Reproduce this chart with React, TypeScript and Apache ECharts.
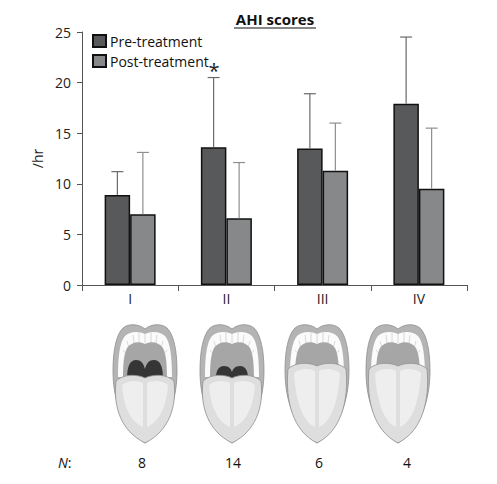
import React, { useEffect, useRef } from "react";
import * as echarts from "echarts";

const categories = ["I", "II", "III", "IV"];
const preValues = [8.9, 13.6, 13.5, 17.9];
const preErrTop = [11.2, 20.5, 18.9, 24.5];
const postValues = [7.0, 6.6, 11.3, 9.5];
const postErrTop = [13.1, 12.1, 16.0, 15.5];
const nValues = [8, 14, 6, 4];
const tonsilTypes = ["big", "small", "none", "none"];
const yTicks = { min: 0, max: 25, interval: 5 };

const FONT = "'Open Sans', 'Noto Sans', sans-serif";

// mouth illustration shapes (local coordinates, 64 x 120)
const SHAPES: Record<string, string> = {
  mOuter:
    "M32,6 C26,1 16,0 10,5 C3,12 0,28 0,48 C0,78 10,106 32,120 C54,106 64,78 64,48 C64,28 61,12 54,5 C48,0 38,1 32,6 Z",
  mTeeth:
    "M32,11 C26,8 17,8 12,13 C7,19 5,32 5,54 L59,54 C59,32 57,19 52,13 C47,8 38,8 32,11 Z",
  mPalate:
    "M32,21 C26,18 18,19 14,25 C11,31 10,40 10,56 L54,56 C54,40 53,31 50,25 C46,19 38,18 32,21 Z",
  mTongueLow:
    "M3,58 C10,51 24,51 32,55 C40,51 54,51 61,58 C64,84 56,108 32,120 C8,108 0,84 3,58 Z",
  mTongueHigh:
    "M3,46 C10,39 24,39 32,43 C40,39 54,39 61,46 C64,78 56,108 32,120 C8,108 0,78 3,46 Z",
  mHiLow:
    "M9,62 C15,57 25,57 30,60 L30,104 C20,100 11,88 9,62 Z M55,62 C49,57 39,57 34,60 L34,104 C44,100 53,88 55,62 Z",
  mHiHigh:
    "M9,50 C15,45 25,45 30,48 L30,104 C20,100 11,84 9,50 Z M55,50 C49,45 39,45 34,48 L34,104 C44,100 53,84 55,50 Z",
  mTonsilBig:
    "M14,56 C14,43 17,37 23,37 C29,37 31,42 32,46 C33,42 35,37 41,37 C47,37 50,43 50,56 C44,53 38,54 32,57 C26,54 20,53 14,56 Z",
  mTonsilSmall:
    "M16,55 C16,47 19,43 24,43 C29,43 31,46 32,49 C33,46 35,43 40,43 C45,43 48,47 48,55 C42,53 37,54 32,56 C27,54 22,53 16,55 Z",
  mTeethGaps:
    "M20,12 L21,20 M26,10 L26,19 M32,11 L32,20 M38,10 L38,19 M44,12 L43,20 M14,18 L16,25 M50,18 L48,25 M10,27 L13,31 M54,27 L51,31",
};

let registered = false;
function registerShapes() {
  if (registered) return;
  Object.keys(SHAPES).forEach((k) => {
    echarts.graphic.registerShape(k, (echarts.graphic as any).extendPath(SHAPES[k], {}));
  });
  registered = true;
}

function mouth(cx: number, top: number, tonsil: string) {
  const x = cx - 32;
  const high = tonsil === "none";
  const children: any[] = [
    { type: "mOuter", x, y: top, style: { fill: "#b4b4b4", stroke: "#8e8e8e", lineWidth: 0.8 } },
    { type: "mTeeth", x, y: top, style: { fill: "#fbfbfb" } },
    { type: "mTeethGaps", x, y: top, style: { fill: "none", stroke: "#cfcfcf", lineWidth: 0.8 } },
    { type: "mPalate", x, y: top, style: { fill: "#a6a6a6" } },
  ];
  if (tonsil === "big") {
    children.push({ type: "mTonsilBig", x, y: top, style: { fill: "#353535" } });
  } else if (tonsil === "small") {
    children.push({ type: "mTonsilSmall", x, y: top, style: { fill: "#353535" } });
  }
  children.push(
    { type: high ? "mTongueHigh" : "mTongueLow", x, y: top, style: { fill: "#dedede", stroke: "#8f8f8f", lineWidth: 0.8 } },
    { type: high ? "mHiHigh" : "mHiLow", x, y: top, style: { fill: "#eeeeee" } }
  );
  return { type: "group", children };
}

export default function App() {
  const ref = useRef<HTMLDivElement>(null);
  useEffect(() => {
    registerShapes();
    const chart = echarts.init(ref.current!, null, { renderer: "svg" });
    const barW = 25.5;
    const errSeries = (name: string, vals: number[], errs: number[], side: number, color: string) => ({
      type: "custom",
      name: name + "-err",
      data: vals.map((v, i) => [i, v, errs[i]]),
      encode: { x: 0, y: [1, 2] },
      silent: true,
      z: 3,
      renderItem: (params: any, api: any) => {
        const i = api.value(0);
        const p0 = api.coord([i, api.value(1)]);
        const p1 = api.coord([i, api.value(2)]);
        const cx = p0[0] + (side * barW) / 2;
        return {
          type: "group",
          children: [
            { type: "line", shape: { x1: cx, y1: p0[1], x2: cx, y2: p1[1] }, style: { stroke: color, lineWidth: 1.2 } },
            { type: "line", shape: { x1: cx - 6, y1: p1[1], x2: cx + 6, y2: p1[1] }, style: { stroke: color, lineWidth: 1.2 } },
          ],
        };
      },
    });
    const mouthCenters = [145, 232, 317, 398];
    const nX = [142, 233, 319, 407];
    const option: any = {
      animation: false,
      textStyle: { fontFamily: FONT },
      grid: { left: 82, right: 30, top: 32, bottom: 199, containLabel: false },
      legend: {
        data: ["Pre-treatment", "Post-treatment"],
        orient: "vertical",
        left: 92,
        top: 34,
        padding: 0,
        itemWidth: 13,
        itemHeight: 12,
        itemGap: 6,
        icon: "rect",
        textStyle: { fontSize: 14, color: "#111", fontFamily: FONT, padding: [0, 0, 0, -1] },
      },
      xAxis: {
        type: "category",
        data: categories,
        axisLine: { lineStyle: { color: "#555", width: 1 } },
        axisTick: { show: true, alignWithLabel: false, length: 6, lineStyle: { color: "#555" } },
        axisLabel: { fontSize: 14, color: "#222", margin: 6, fontFamily: FONT },
      },
      yAxis: {
        type: "value",
        min: yTicks.min,
        max: yTicks.max,
        interval: yTicks.interval,
        name: "/hr",
        nameLocation: "middle",
        nameGap: 36,
        nameTextStyle: { fontSize: 14, color: "#222", fontFamily: FONT },
        splitLine: { show: false },
        axisLine: { show: true, lineStyle: { color: "#555", width: 1 } },
        axisTick: { show: true, length: 5, lineStyle: { color: "#555" } },
        axisLabel: { fontSize: 14, color: "#222", margin: 11, fontFamily: FONT },
      },
      series: [
        {
          type: "bar",
          name: "Pre-treatment",
          data: preValues,
          barWidth: barW,
          barGap: "0%",
          itemStyle: { color: "#58595b", borderColor: "#111", borderWidth: 1.5 },
        },
        {
          type: "bar",
          name: "Post-treatment",
          data: postValues,
          barWidth: barW,
          barGap: "0%",
          itemStyle: { color: "#87888a", borderColor: "#111", borderWidth: 1.5 },
        },
        errSeries("pre", preValues, preErrTop, -1, "#6a6a6a"),
        errSeries("post", postValues, postErrTop, 1, "#8e8e8e"),
      ],
      graphic: [
        {
          type: "text",
          x: 275,
          y: 19,
          style: { text: "AHI scores", fontSize: 15, fontWeight: "bold", fontFamily: FONT, fill: "#111", align: "center", verticalAlign: "middle" },
        },
        { type: "line", shape: { x1: 234, y1: 28, x2: 316, y2: 28 }, style: { stroke: "#111", lineWidth: 1.2 } },
        {
          type: "text",
          x: 214,
          y: 70,
          style: { text: "*", fontSize: 20, fontFamily: FONT, fill: "#222", align: "center", verticalAlign: "middle" },
        },
        ...mouthCenters.map((cx, i) => mouth(cx, 323, tonsilTypes[i])),
        {
          type: "text",
          x: 58,
          y: 462,
          style: {
            text: "{i|N}:",
            fontSize: 14,
            fontFamily: FONT,
            fill: "#111",
            verticalAlign: "middle",
            rich: { i: { fontStyle: "italic", fontSize: 14, fontFamily: FONT, fill: "#111" } },
          },
        },
        ...nValues.map((n, i) => ({
          type: "text",
          x: nX[i],
          y: 462,
          style: { text: String(n), fontSize: 14, fontFamily: FONT, fill: "#111", align: "center", verticalAlign: "middle" },
        })),
      ],
    };
    chart.setOption(option);
    return () => chart.dispose();
  }, []);
  return <div ref={ref} style={{ width: 497, height: 484, position: "absolute", left: 0, top: 0, background: "#fff" }} />;
}
